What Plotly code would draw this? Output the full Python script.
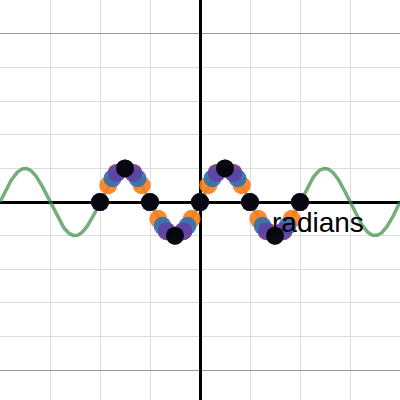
import numpy as np
import plotly.graph_objects as go

# angle multiples (in units of pi) for each point set, from -2pi to 2pi
orange_k = [i/6 for i in range(-12, 13)]
blue_k = [i/4 for i in range(-8, 9)]
purple_k = [i/3 for i in range(-6, 7)]
black_k = [i/2 for i in range(-4, 5)]
label_text = "radians"

curve_x = np.linspace(-4*np.pi, 4*np.pi, 800)
curve_y = np.sin(curve_x)

fig = go.Figure()
fig.add_trace(go.Scatter(x=curve_x, y=curve_y, mode="lines",
                         line=dict(color="#388c46", width=3.5), opacity=0.7))
for ks, col in [(orange_k, "#fa7e19"), (blue_k, "#2d70b3"),
                (purple_k, "#6042a6"), (black_k, "#000000")]:
    xs = np.array(ks)*np.pi
    fig.add_trace(go.Scatter(x=xs, y=np.sin(xs), mode="markers",
                             marker=dict(color=col, size=18, line=dict(width=0)),
                             opacity=0.9))

fig.add_annotation(x=2.36*np.pi, y=-0.6, text=label_text, showarrow=False,
                   font=dict(family="Arial, Liberation Sans", size=28, color="black"))

fig.update_xaxes(range=[-4*np.pi, 4*np.pi], dtick=4*np.pi, tick0=0,
                 showgrid=True, gridcolor="#999", gridwidth=1.2,
                 minor=dict(dtick=np.pi, tick0=0, showgrid=True, gridcolor="#ddd", gridwidth=1.2),
                 zeroline=True, zerolinecolor="black", zerolinewidth=2.5,
                 showticklabels=False, ticks="")
fig.update_yaxes(range=[-5.89, 6.01], dtick=5, tick0=0,
                 showgrid=True, gridcolor="#999", gridwidth=1.2,
                 minor=dict(dtick=1, tick0=0, showgrid=True, gridcolor="#ddd", gridwidth=1.2),
                 zeroline=True, zerolinecolor="black", zerolinewidth=2.5,
                 showticklabels=False, ticks="")
fig.update_layout(width=400, height=400, margin=dict(l=0, r=0, t=0, b=0),
                  plot_bgcolor="white", paper_bgcolor="white", showlegend=False)
fig.write_html("out.html", config={"displayModeBar": False},
               post_script="document.body.style.margin='0';")
